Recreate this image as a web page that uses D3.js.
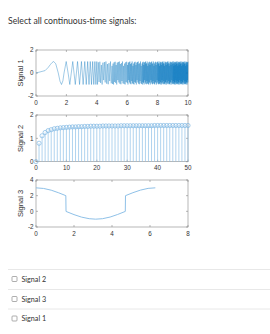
<!DOCTYPE html>
<html>
<head>
<meta charset="utf-8">
<script src="https://cdn.jsdelivr.net/npm/d3@7"></script>
<style>
body { margin: 0; background: #fff; }
</style>
</head>
<body>
<div id="chart"></div>
<script>
// signal 1: chirp, extremes (t < 4)
var sig1T = [0, 0.6, 0.8, 0.95, 1.05, 1.162, 1.3, 1.465, 1.58, 1.677, 1.77, 1.845, 1.987, 2.112, 2.224, 2.418, 2.585, 2.733, 2.867, 2.989, 3.102, 3.208, 3.306, 3.399, 3.487, 3.571, 3.651, 3.728, 3.802, 3.874, 3.942, 4.0]
var sig1Y = [0, 0.21, 0.48, 0.74, 0.9, 1, 0.8, 0, -0.72, -1, -0.68, 0, 1, 0, -1, 1, -1, 1, -1, 1, -1, 1, -1, 1, -1, 1, -1, 1, -1, 1, -1, 1]
// dense part: half-cycles counted per unit of t (4-5, 5-6, ... 9-10)
var sig1Dense = [20, 29, 40, 54, 69, 86]
// peak heights seen along the ragged edge of the dense band (repeating)
var sig1Amp = [1, 0.93, 0.78, 0.98, 0.86, 0.7, 1, 0.9, 0.62, 0.95, 0.82]

// signal 2: stem values n = 0..50
var sig2 = [0, 0.79, 1.11, 1.25, 1.33, 1.37, 1.41, 1.43, 1.45, 1.46, 1.47, 1.48, 1.49, 1.49, 1.50, 1.50,
  1.51, 1.51, 1.52, 1.52, 1.52, 1.52, 1.53, 1.53, 1.53, 1.53, 1.53, 1.53, 1.54, 1.54, 1.54,
  1.54, 1.54, 1.54, 1.54, 1.54, 1.54, 1.54, 1.54, 1.55, 1.55, 1.55, 1.55, 1.55, 1.55, 1.55,
  1.55, 1.55, 1.55, 1.55, 1.55]

// signal 3: piecewise curve
var sig3T = [0, 0.4, 0.8, 1.2, 1.57, 1.58, 2.0, 2.4, 2.8, 3.14, 3.5, 3.9, 4.3, 4.70, 4.71, 5.1, 5.5, 5.9, 6.28]
var sig3Y = [3, 2.92, 2.70, 2.36, 2.0, -0.01, -0.42, -0.74, -0.94, -1, -0.94, -0.73, -0.40, -0.01, 2.0, 2.38, 2.71, 2.93, 3]

var options = ["Signal 2", "Signal 3", "Signal 1"]

var W = 270, H = 334
var left = 36, right = 188

var svg = d3.select("#chart").append("svg")
  .attr("width", W).attr("height", H)

svg.append("text")
  .attr("x", 8).attr("y", 24)
  .style("font-family", "Lato")
  .style("font-size", "8.7px")
  .style("fill", "#333")
  .text("Select all continuous-time signals:")

var blue = "#0072BD"

function panel(top, bottom, xdom, xticks, ydom, yticks, label) {
  var x = d3.scaleLinear().domain(xdom).range([left, right])
  var y = d3.scaleLinear().domain(ydom).range([bottom, top])
  var g = svg.append("g")
  var fnt = "'Liberation Sans', Arial, sans-serif"

  // box
  g.append("rect")
    .attr("x", left).attr("y", top)
    .attr("width", right - left).attr("height", bottom - top)
    .attr("fill", "none").attr("stroke", "#888").attr("stroke-width", 0.6)

  // ticks (inward, bottom/top, left/right)
  xticks.forEach(function (v) {
    g.append("line").attr("x1", x(v)).attr("x2", x(v)).attr("y1", bottom).attr("y2", bottom - 2)
      .attr("stroke", "#888").attr("stroke-width", 0.6)
    g.append("line").attr("x1", x(v)).attr("x2", x(v)).attr("y1", top).attr("y2", top + 2)
      .attr("stroke", "#888").attr("stroke-width", 0.6)
    g.append("text").attr("x", x(v)).attr("y", bottom + 8.5)
      .attr("text-anchor", "middle")
      .style("font-family", fnt).style("font-size", "6.3px").style("fill", "#333")
      .text(v)
  })
  yticks.forEach(function (v) {
    g.append("line").attr("x1", left).attr("x2", left + 2).attr("y1", y(v)).attr("y2", y(v))
      .attr("stroke", "#888").attr("stroke-width", 0.6)
    g.append("line").attr("x1", right).attr("x2", right - 2).attr("y1", y(v)).attr("y2", y(v))
      .attr("stroke", "#888").attr("stroke-width", 0.6)
    g.append("text").attr("x", left - 2.5).attr("y", y(v) + 2.2)
      .attr("text-anchor", "end")
      .style("font-family", fnt).style("font-size", "6.3px").style("fill", "#333")
      .text(v)
  })
  g.append("text")
    .attr("transform", "translate(23," + ((top + bottom) / 2) + ")rotate(-90)")
    .attr("text-anchor", "middle")
    .style("font-family", fnt).style("font-size", "7.5px").style("fill", "#333")
    .text(label)
  return {x: x, y: y, g: g}
}

// ---- Signal 1
var p1 = panel(50, 96, [0, 10], [0, 2, 4, 6, 8, 10], [-2, 2], [-2, 0, 2], "Signal 1")
var line1 = d3.line().x(function (d) { return p1.x(d[0]) }).y(function (d) { return p1.y(d[1]) })
p1.g.append("path")
  .datum(sig1T.map(function (t, i) { return [t, sig1Y[i]] }))
  .attr("d", line1)
  .attr("fill", "none").attr("stroke", blue).attr("stroke-width", 0.5).attr("stroke-opacity", 0.75)

var dense = [[4, 1]]
var sgn = -1, c = 0
sig1Dense.forEach(function (n, k) {
  for (var j = 1; j <= n; j++) {
    dense.push([4 + k + j / n, sgn * sig1Amp[c % sig1Amp.length]])
    sgn = -sgn
    c++
  }
})
p1.g.append("path")
  .datum(dense)
  .attr("d", line1)
  .attr("fill", "none").attr("stroke", blue).attr("stroke-width", 0.45).attr("stroke-opacity", 0.72)

// ---- Signal 2
var p2 = panel(115, 161.7, [0, 50], [0, 10, 20, 30, 40, 50], [0, 2], [0, 1, 2], "Signal 2")
p2.g.selectAll(".stem").data(sig2).enter().append("line")
  .attr("x1", function (d, i) { return p2.x(i) }).attr("x2", function (d, i) { return p2.x(i) })
  .attr("y1", p2.y(0)).attr("y2", function (d) { return p2.y(d) })
  .attr("stroke", "#8fc1e8").attr("stroke-width", 0.7)
p2.g.selectAll(".dot").data(sig2).enter().append("circle")
  .attr("cx", function (d, i) { return p2.x(i) })
  .attr("cy", function (d) { return p2.y(d) })
  .attr("r", 2.1)
  .attr("fill", "none").attr("stroke", "#7db6e2").attr("stroke-width", 0.7)

// ---- Signal 3
var p3 = panel(180, 227, [0, 8], [0, 2, 4, 6, 8], [-2, 4], [-2, 0, 2, 4], "Signal 3")
p3.g.append("path")
  .datum(sig3T.map(function (t, i) { return [t, sig3Y[i]] }))
  .attr("d", d3.line().x(function (d) { return p3.x(d[0]) }).y(function (d) { return p3.y(d[1]) }))
  .attr("fill", "none").attr("stroke", "#8fc1e8").attr("stroke-width", 1)

// ---- answer options
var rowY = [279, 299, 318.5]
var sepY = [269.5, 289.5, 309]
sepY.forEach(function (yy) {
  svg.append("line").attr("x1", 8).attr("x2", W).attr("y1", yy).attr("y2", yy)
    .attr("stroke", "#e8e8e8").attr("stroke-width", 1)
})
options.forEach(function (o, i) {
  svg.append("rect")
    .attr("x", 12).attr("y", rowY[i] - 2.5)
    .attr("width", 5).attr("height", 5).attr("rx", 0.8)
    .attr("fill", "#fff").attr("stroke", "#777").attr("stroke-width", 0.6)
  svg.append("text")
    .attr("x", 21.5).attr("y", rowY[i] + 2.5)
    .style("font-family", "Lato").style("font-size", "7.2px").style("fill", "#333")
    .text(o)
})
</script>
</body>
</html>
